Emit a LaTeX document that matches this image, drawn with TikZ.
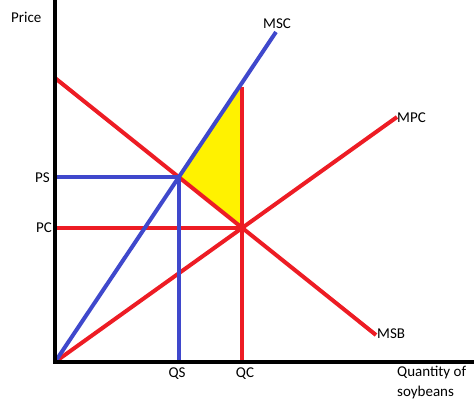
\documentclass[tikz,border=0pt]{standalone}
\usepackage{fontspec}
\setmainfont{Carlito}
\definecolor{cred}{RGB}{237,28,36}
\definecolor{cblue}{RGB}{63,72,204}
\definecolor{cyellow}{RGB}{255,242,0}
\begin{document}
\begin{tikzpicture}[x=1pt,y=-1pt,
  axis/.style={line width=4pt,black},
  redline/.style={line width=4pt,cred},
  blueline/.style={line width=4pt,cblue},
  lbl/.style={font=\fontsize{15}{17}\selectfont,inner sep=0pt}]
\useasboundingbox (0,0) rectangle (474,404);
% key points
\coordinate (O) at (55,362);
\coordinate (ytop) at (55,0);
\coordinate (xend) at (474,362);
\coordinate (msbA) at (55,78);
\coordinate (msbB) at (376,335);
\coordinate (mscB) at (276,32);
\coordinate (mpcB) at (397,117);
\coordinate (S) at (179,177);
\coordinate (C) at (242,228);
\coordinate (Ctop) at (242,85);
\coordinate (Ctopr) at (242,87);
\coordinate (PSa) at (55,177);
\coordinate (PCa) at (55,228);
\coordinate (QSa) at (179,362);
\coordinate (QCa) at (242,362);
% yellow area
\fill[cyellow] (S) -- (Ctop) -- (C) -- cycle;
% lines
\draw[redline] (PCa) -- (C);
\draw[redline] (Ctopr) -- (QCa);
\draw[redline] (O) -- (mpcB);
\draw[redline] (msbA) -- (msbB);
\draw[blueline] (PSa) -- (S) -- (QSa);
\draw[blueline] (O) -- (mscB);
% axes
\draw[axis] (ytop) -- (O) -- (xend);
% labels
\node[lbl,anchor=west] (price) at (11,17) {Price};
\node[lbl,anchor=east] (ps) at (50,178) {PS};
\node[lbl,anchor=east] (pc) at (52,228) {PC};
\node[lbl] (qs) at (177,374) {QS};
\node[lbl] (qc) at (245,374) {QC};
\node[lbl,anchor=west] (q1) at (397,373) {Quantity of};
\node[lbl,anchor=west] (q2) at (397,392) {soybeans};
\node[lbl,anchor=west] (msc) at (263,24) {MSC};
\node[lbl,anchor=west] (mpc) at (397,118) {MPC};
\node[lbl,anchor=west] (msb) at (377,334) {MSB};
\end{tikzpicture}
\end{document}
